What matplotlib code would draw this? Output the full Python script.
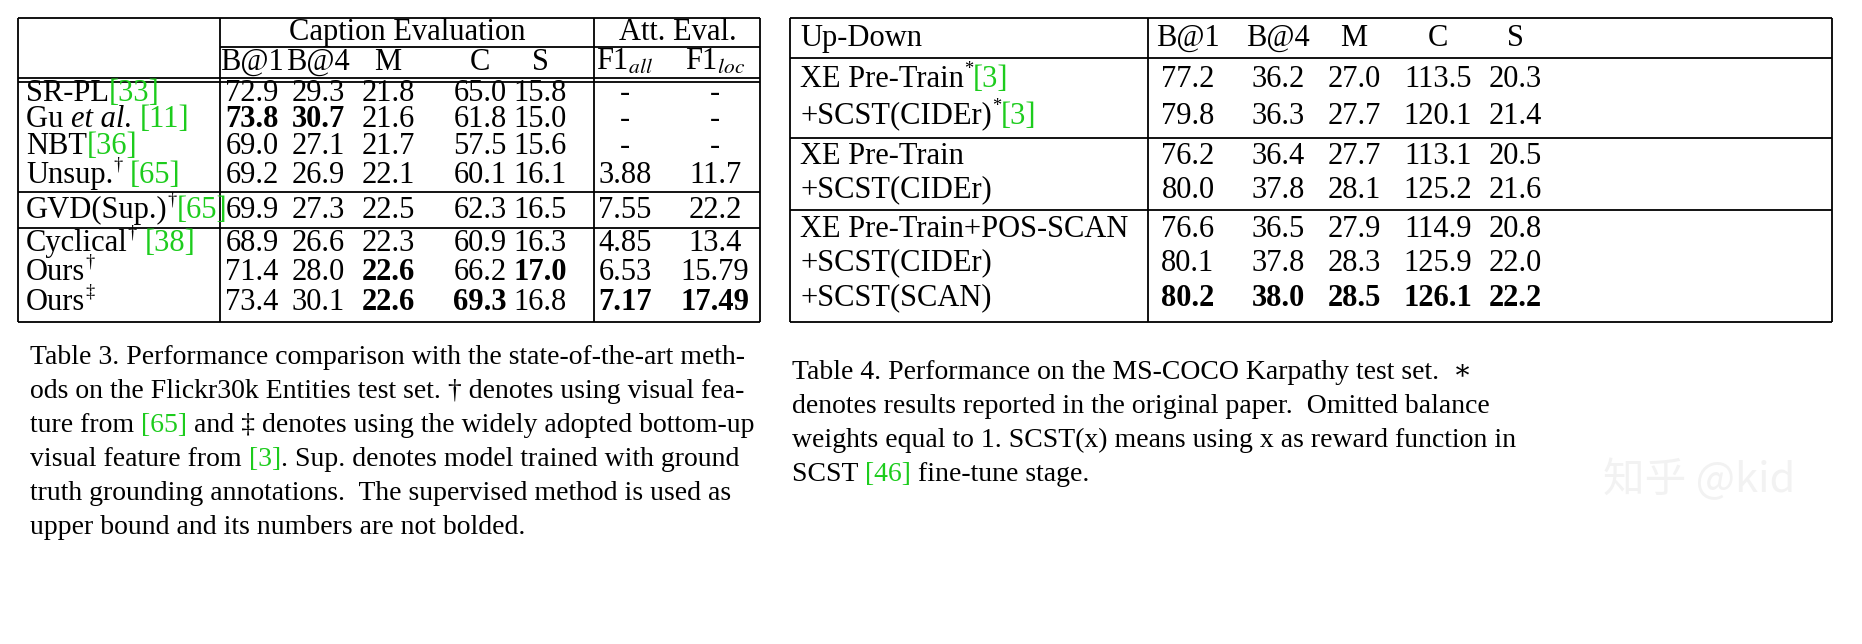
import matplotlib
matplotlib.use("Agg")
import matplotlib.pyplot as plt

plt.rcParams['mathtext.fontset'] = 'stix'
SERIF = ['Liberation Serif', 'DejaVu Serif']
GREEN = '#1dcc1d'
FS = 22

# ---- data ----
t3_cols = ["B@1", "B@4", "M", "C", "S"]
t3_rows = [
    [("SR-PL", None), ("[33]", "g")],
    [("Gu ", None), ("et al", "i"), (". ", None), ("[11]", "g")],
    [("NBT", None), ("[36]", "g")],
    [("Unsup.", None), ("†", "sup"), (" ", None), ("[65]", "g")],
    [("GVD(Sup.)", None), ("†", "sup"), ("[65]", "g")],
    [("Cyclical", None), ("†", "sup"), (" ", None), ("[38]", "g")],
    [("Ours", None), ("†", "sup")],
    [("Ours", None), ("‡", "sup")],
]
t3_vals = [
    ["72.9", "29.3", "21.8", "65.0", "15.8", "-", "-"],
    ["73.8", "30.7", "21.6", "61.8", "15.0", "-", "-"],
    ["69.0", "27.1", "21.7", "57.5", "15.6", "-", "-"],
    ["69.2", "26.9", "22.1", "60.1", "16.1", "3.88", "11.7"],
    ["69.9", "27.3", "22.5", "62.3", "16.5", "7.55", "22.2"],
    ["68.9", "26.6", "22.3", "60.9", "16.3", "4.85", "13.4"],
    ["71.4", "28.0", "22.6", "66.2", "17.0", "6.53", "15.79"],
    ["73.4", "30.1", "22.6", "69.3", "16.8", "7.17", "17.49"],
]
t3_bold = {(1, 0), (1, 1), (6, 2), (6, 4), (7, 2), (7, 3), (7, 5), (7, 6)}

t4_cols = ["B@1", "B@4", "M", "C", "S"]
t4_rows = [
    [("XE Pre-Train", None), ("*", "sup"), ("[3]", "g")],
    [("+SCST(CIDEr)", None), ("*", "sup"), ("[3]", "g")],
    [("XE Pre-Train", None)],
    [("+SCST(CIDEr)", None)],
    [("XE Pre-Train+POS-SCAN", None)],
    [("+SCST(CIDEr)", None)],
    [("+SCST(SCAN)", None)],
]
t4_vals = [
    ["77.2", "36.2", "27.0", "113.5", "20.3"],
    ["79.8", "36.3", "27.7", "120.1", "21.4"],
    ["76.2", "36.4", "27.7", "113.1", "20.5"],
    ["80.0", "37.8", "28.1", "125.2", "21.6"],
    ["76.6", "36.5", "27.9", "114.9", "20.8"],
    ["80.1", "37.8", "28.3", "125.9", "22.0"],
    ["80.2", "38.0", "28.5", "126.1", "22.2"],
]

cap3 = [
    [("Table 3. Performance comparison with the state-of-the-art meth-", None)],
    [("ods on the Flickr30k Entities test set. † denotes using visual fea-", None)],
    [("ture from ", None), ("[65]", "g"), (" and ‡ denotes using the widely adopted bottom-up", None)],
    [("visual feature from ", None), ("[3]", "g"), (". Sup. denotes model trained with ground", None)],
    [("truth grounding annotations.  The supervised method is used as", None)],
    [("upper bound and its numbers are not bolded.", None)],
]
cap4 = [
    [("Table 4. Performance on the MS-COCO Karpathy test set.  ∗", None)],
    [("denotes results reported in the original paper.  Omitted balance", None)],
    [("weights equal to 1. SCST(x) means using x as reward function in", None)],
    [("SCST ", None), ("[46]", "g"), (" fine-tune stage.", None)],
]

W, H = 1862, 644
fig = plt.figure(figsize=(W / 100, H / 100), dpi=100)
ax = fig.add_axes([0, 0, 1, 1])
ax.set_xlim(0, W); ax.set_ylim(H, 0); ax.axis('off')
r = fig.canvas.get_renderer()


def runs(x, y, items, fs=FS, bold=False):
    for s, kind in items:
        kw = dict(fontsize=fs, family=SERIF, va='center', ha='left', color='black',
                  weight='bold' if bold else 'normal')
        yy = y
        if kind == 'g':
            kw['color'] = GREEN
        elif kind == 'i':
            kw['style'] = 'italic'
        elif kind == 'sup':
            kw['fontsize'] = fs * 0.6
            yy = y - fs * 0.45
        t = ax.text(x, yy, s, **kw)
        bb = t.get_window_extent(renderer=r)
        x += bb.width


def ctext(x, y, s, bold=False, fs=FS):
    ax.text(x, y, s, fontsize=fs, family=SERIF, ha='center', va='center',
            weight='bold' if bold else 'normal')


def hl(x0, x1, y, lw=1.3):
    ax.plot([x0, x1], [y, y], color='black', lw=lw, solid_capstyle='butt')


def vl(x, y0, y1, lw=1.3):
    ax.plot([x, x], [y0, y1], color='black', lw=lw, solid_capstyle='butt')

# ---- Table 3 ----
L, R, T, B = 18, 760, 18, 322
for y in (T, B):
    hl(L, R, y)
vl(L, T, B); vl(R, T, B); vl(220, T, B); vl(594, T, B)
hl(220, R, 47)
hl(L, R, 78); hl(L, R, 82)
hl(L, R, 192); hl(L, R, 228)
ctext(407, 32, "Caption Evaluation")
ctext(678, 32, "Att. Eval.")
xs3 = [252, 318, 388, 480, 540, 625, 715]
for x, c in zip(xs3[:5], t3_cols):
    ctext(x, 62, c)
ctext(xs3[5], 62, r"F1$_{all}$")
ctext(xs3[6], 62, r"F1$_{loc}$")
ys3 = [93, 119, 146, 175, 210, 243, 272, 302]
for i, (y, lab, vals) in enumerate(zip(ys3, t3_rows, t3_vals)):
    runs(26, y, lab)
    for j, (x, v) in enumerate(zip(xs3, vals)):
        ctext(x, y, v, bold=(i, j) in t3_bold)

# ---- Table 4 ----
L, R = 790, 1832
hl(L, R, T); hl(L, R, B)
vl(L, T, B); vl(R, T, B); vl(1148, T, B)
hl(L, R, 58); hl(L, R, 138); hl(L, R, 210)
runs(800, 38, [("Up-Down", None)])
xs4 = [1188, 1278, 1354, 1438, 1515]
for x, c in zip(xs4, t4_cols):
    ctext(x, 38, c)
ys4 = [79, 116, 156, 190, 229, 263, 298]
for i, (y, lab, vals) in enumerate(zip(ys4, t4_rows, t4_vals)):
    runs(800, y, lab)
    for x, v in zip(xs4, vals):
        ctext(x, y, v, bold=(i == 6))

# ---- captions ----
for k, line in enumerate(cap3):
    runs(30, 357 + k * 34, line, fs=20)
for k, line in enumerate(cap4):
    runs(792, 372 + k * 34, line, fs=20)

ax.text(1603, 480, "知乎 @kid", fontsize=30, family=['Noto Sans CJK SC', 'DejaVu Sans'],
        color='#f2f2f2', ha='left', va='center')

fig.savefig("out.png", dpi=100, facecolor='white')
